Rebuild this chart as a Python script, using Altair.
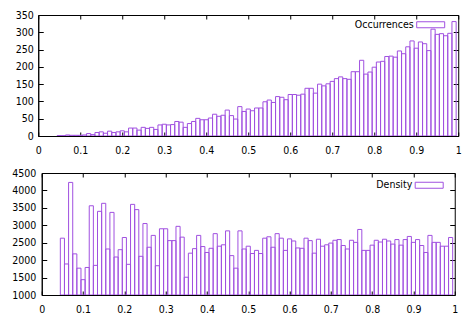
import altair as alt
import pandas as pd

# bin centres (bin width 0.01)
bin_centers = [0.05, 0.06, 0.07, 0.08, 0.09, 0.10, 0.11, 0.12, 0.13, 0.14,
               0.15, 0.16, 0.17, 0.18, 0.19, 0.20, 0.21, 0.22, 0.23, 0.24,
               0.25, 0.26, 0.27, 0.28, 0.29, 0.30, 0.31, 0.32, 0.33, 0.34,
               0.35, 0.36, 0.37, 0.38, 0.39, 0.40, 0.41, 0.42, 0.43, 0.44,
               0.45, 0.46, 0.47, 0.48, 0.49, 0.50, 0.51, 0.52, 0.53, 0.54,
               0.55, 0.56, 0.57, 0.58, 0.59, 0.60, 0.61, 0.62, 0.63, 0.64,
               0.65, 0.66, 0.67, 0.68, 0.69, 0.70, 0.71, 0.72, 0.73, 0.74,
               0.75, 0.76, 0.77, 0.78, 0.79, 0.80, 0.81, 0.82, 0.83, 0.84,
               0.85, 0.86, 0.87, 0.88, 0.89, 0.90, 0.91, 0.92, 0.93, 0.94,
               0.95, 0.96, 0.97, 0.98, 0.99]
BIN_WIDTH = 0.01

occurrences = [1, 1, 3, 2, 2, 2, 3, 7, 4, 10,
               12, 8, 14, 10, 12, 15, 12, 23, 23, 17,
               25, 22, 25, 19, 32, 34, 32, 33, 42, 40,
               25, 36, 42, 51, 47, 47, 52, 63, 57, 60,
               75, 59, 49, 85, 71, 78, 73, 81, 81, 99,
               104, 97, 114, 112, 105, 120, 120, 118, 121, 138,
               138, 124, 150, 145, 151, 158, 166, 171, 166, 164,
               186, 186, 219, 179, 185, 199, 214, 216, 230, 231,
               228, 246, 238, 258, 275, 254, 272, 267, 247, 309,
               294, 296, 290, 297, 331]

density = [2630, 1890, 4230, 2180, 1770, 1440, 1790, 3560, 1850, 3400,
           3630, 2320, 3370, 2090, 2300, 2650, 1880, 3600, 3450, 2110,
           3050, 2370, 2710, 1840, 2900, 2900, 2560, 2560, 2970, 2660,
           1510, 2200, 2330, 2710, 2390, 2220, 2340, 2760, 2400, 2440,
           2840, 2130, 1770, 2840, 2320, 2400, 2190, 2280, 2190, 2630,
           2670, 2370, 2760, 2630, 2280, 2610, 2550, 2350, 2340, 2630,
           2560, 2200, 2600, 2400, 2440, 2490, 2570, 2590, 2420, 2320,
           2570, 2510, 2880, 2280, 2280, 2430, 2570, 2520, 2600, 2550,
           2460, 2590, 2430, 2590, 2680, 2510, 2590, 2420, 2220, 2710,
           2510, 2510, 2400, 2400, 2650]

x_ticks = [0, 0.1, 0.2, 0.3, 0.4, 0.5, 0.6, 0.7, 0.8, 0.9, 1]
occ_ticks = [0, 50, 100, 150, 200, 250, 300, 350]
dens_ticks = [1000, 1500, 2000, 2500, 3000, 3500, 4000, 4500]

PURPLE = "#a050e0"
FONT = "DejaVu Sans Condensed"
FS = 10.5
# key sample: an empty box drawn to the right of the (right-aligned) label
KEY_SYMBOL = "M4.1,-1.5H18.1V1.5H4.1Z"


def panel(values, label, yticks, ydomain, w, h, ylabpad, legend_x, legend_y):
    df = pd.DataFrame({
        "lo": [c - BIN_WIDTH / 2 for c in bin_centers],
        "hi": [c + BIN_WIDTH / 2 for c in bin_centers],
        "v": values,
        "series": [label] * len(values),
    })
    return alt.Chart(df).mark_bar(filled=False, strokeWidth=1, clip=True).encode(
        x=alt.X("lo:Q",
                scale=alt.Scale(domain=[0, 1], nice=False, zero=False),
                axis=alt.Axis(values=x_ticks, format=".1~f", title=None,
                              ticks=False, labelPadding=9, labelFlush=False,
                              grid=True, gridDash=[4, h - 8, 4, 3000],
                              gridColor="black", gridOpacity=1, gridWidth=1,
                              domainColor="black", labelColor="black",
                              labelFont=FONT, labelFontSize=FS)),
        x2="hi",
        y=alt.Y("v:Q",
                scale=alt.Scale(domain=ydomain, nice=False, zero=False),
                axis=alt.Axis(values=yticks, format="d", title=None, ticks=False,
                              labelPadding=ylabpad, labelFlush=False,
                              grid=True, gridDash=[5, w - 10, 5, 3000],
                              gridColor="black", gridOpacity=1, gridWidth=1,
                              domainColor="black", labelColor="black",
                              labelFont=FONT, labelFontSize=FS)),
        y2=alt.datum(ydomain[0]),
        color=alt.Color("series:N",
                        scale=alt.Scale(domain=[label], range=[PURPLE]),
                        legend=alt.Legend(title=None, orient="none",
                                          legendX=legend_x, legendY=legend_y,
                                          padding=0,
                                          symbolType=KEY_SYMBOL,
                                          symbolSize=16, symbolStrokeWidth=1,
                                          symbolOffset=0, symbolFillColor="white",
                                          labelOffset=0, labelAlign="right",
                                          labelFont=FONT, labelFontSize=FS,
                                          labelColor="black")),
    ).properties(width=w, height=h)


top = panel(occurrences, "Occurrences", occ_ticks, [0, 350], 420, 121, 5, 365, 4.5)
bottom = panel(density, "Density", dens_ticks, [1000, 4500], 413, 122, 6, 360, 7)

chart = alt.vconcat(top, bottom, spacing=11, center=True).resolve_scale(
    color="independent"
).properties(
    padding={"left": 11, "top": 9, "right": 0, "bottom": 0},
    background="white",
).configure_view(stroke="black", strokeWidth=1)

chart.save("out.html", embed_options={"renderer": "svg", "actions": False})
